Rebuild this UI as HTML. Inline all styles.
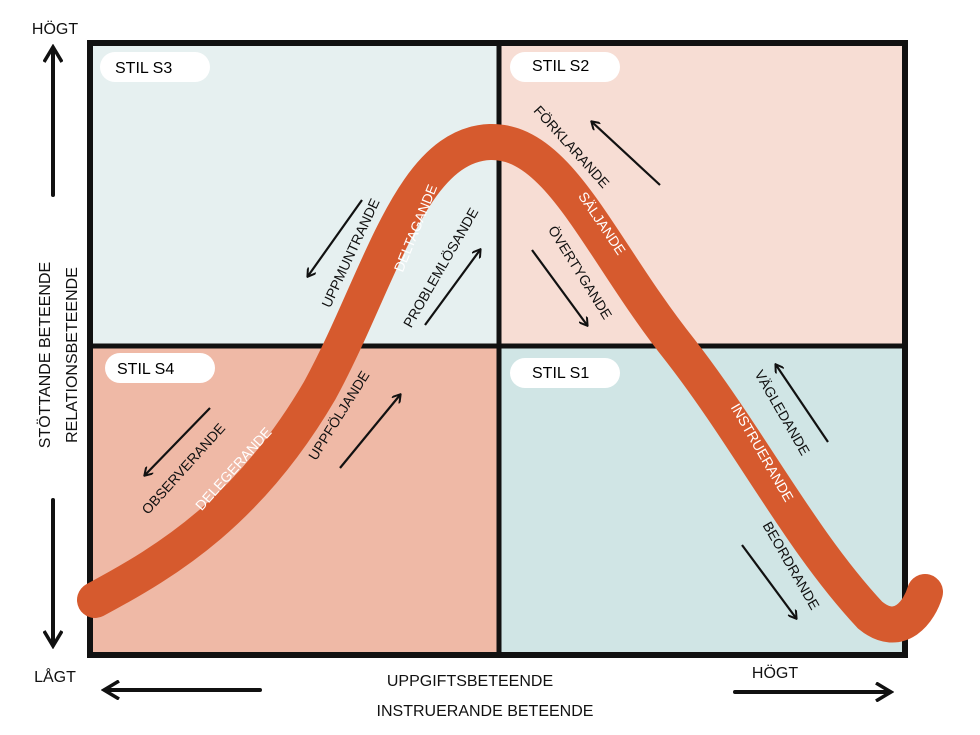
<!DOCTYPE html>
<html><head><meta charset="utf-8"><style>
body{margin:0;background:#fff}
svg{display:block;font-family:"Liberation Sans",sans-serif}
text{font-size:14px}
</style></head><body>
<svg width="980" height="735" viewBox="0 0 980 735">
<defs><marker id="a" markerWidth="10" markerHeight="10" refX="8" refY="5" orient="auto" markerUnits="userSpaceOnUse"><path d="M1,0 L9,5 L1,10" fill="none" stroke="#111" stroke-width="2"/></marker>
<marker id="b" markerWidth="20" markerHeight="20" refX="16" refY="10" orient="auto" markerUnits="userSpaceOnUse"><path d="M2,1 L17,10 L2,19" fill="none" stroke="#111" stroke-width="3.5"/></marker></defs>
<rect x="90" y="43" width="409" height="303" fill="#e6f0f0"/>
<rect x="499" y="43" width="406" height="303" fill="#f7ddd4"/>
<rect x="90" y="346" width="409" height="309" fill="#efb9a6"/>
<rect x="499" y="346" width="406" height="309" fill="#d0e5e5"/>
<rect x="90" y="43" width="815" height="612" fill="none" stroke="#111" stroke-width="6"/>
<line x1="499" y1="43" x2="499" y2="655" stroke="#111" stroke-width="5"/>
<line x1="90" y1="346" x2="905" y2="346" stroke="#111" stroke-width="5"/>
<g fill="#fff"><rect x="100" y="52" width="110" height="30" rx="15"/><rect x="510" y="52" width="110" height="30" rx="15"/><rect x="105" y="353" width="110" height="30" rx="15"/><rect x="510" y="358" width="110" height="30" rx="15"/></g>
<g font-size="16"><text x="115" y="73" style="font-size:16px">STIL S3</text><text x="532" y="71" style="font-size:16px">STIL S2</text><text x="117" y="374" style="font-size:16px">STIL S4</text><text x="532" y="378" style="font-size:16px">STIL S1</text></g>
<path d="M95,600 C170,560 250,510 320,390 C380,280 410,145 490,142 C560,140 600,250 680,350 C750,440 800,540 870,615 C900,640 920,610 925,592" fill="none" stroke="#d65a2e" stroke-width="36" stroke-linecap="round"/>
<g fill="#fff" text-anchor="middle">
<text transform="translate(237,472) rotate(-48)">DELEGERANDE</text>
<text transform="translate(420,230) rotate(-68)">DELTAGANDE</text>
<text transform="translate(598,226) rotate(56)">SÄLJANDE</text>
<text transform="translate(758,455) rotate(60)">INSTRUERANDE</text></g>
<g fill="#111" text-anchor="middle">
<text transform="translate(187,472) rotate(-48)">OBSERVERANDE</text>
<text transform="translate(343,418) rotate(-58)">UPPFÖLJANDE</text>
<text transform="translate(355,255) rotate(-65)">UPPMUNTRANDE</text>
<text transform="translate(445,270) rotate(-60)">PROBLEMLÖSANDE</text>
<text transform="translate(568,150) rotate(48)">FÖRKLARANDE</text>
<text transform="translate(576,275) rotate(58)">ÖVERTYGANDE</text>
<text transform="translate(778,415) rotate(60)">VÄGLEDANDE</text>
<text transform="translate(787,568) rotate(60)">BEORDRANDE</text></g>
<g stroke="#111" stroke-width="2.2" marker-end="url(#a)">
<line x1="210" y1="408" x2="145" y2="475"/><line x1="340" y1="468" x2="400" y2="395"/>
<line x1="362" y1="200" x2="308" y2="276"/><line x1="425" y1="325" x2="480" y2="250"/>
<line x1="660" y1="185" x2="592" y2="122"/><line x1="532" y1="250" x2="587" y2="325"/>
<line x1="828" y1="442" x2="776" y2="365"/><line x1="742" y1="545" x2="796" y2="618"/></g>
<g stroke="#111" stroke-width="4" marker-end="url(#b)" stroke-linecap="round">
<line x1="53" y1="195" x2="53" y2="48"/><line x1="53" y1="500" x2="53" y2="645"/>
<line x1="260" y1="690" x2="105" y2="690"/><line x1="735" y1="692" x2="890" y2="692"/></g>
<g fill="#111" text-anchor="middle" style="font-size:16px">
<text x="55" y="34" style="font-size:16px">HÖGT</text><text x="55" y="682" style="font-size:16px">LÅGT</text><text x="775" y="678" style="font-size:16px">HÖGT</text>
<text x="470" y="686" style="font-size:16px">UPPGIFTSBETEENDE</text><text x="485" y="716" style="font-size:16px">INSTRUERANDE BETEENDE</text>
<text transform="translate(50,355) rotate(-90)" style="font-size:16px">STÖTTANDE BETEENDE</text>
<text transform="translate(77,355) rotate(-90)" style="font-size:16px">RELATIONSBETEENDE</text></g>
</svg>
</body></html>
